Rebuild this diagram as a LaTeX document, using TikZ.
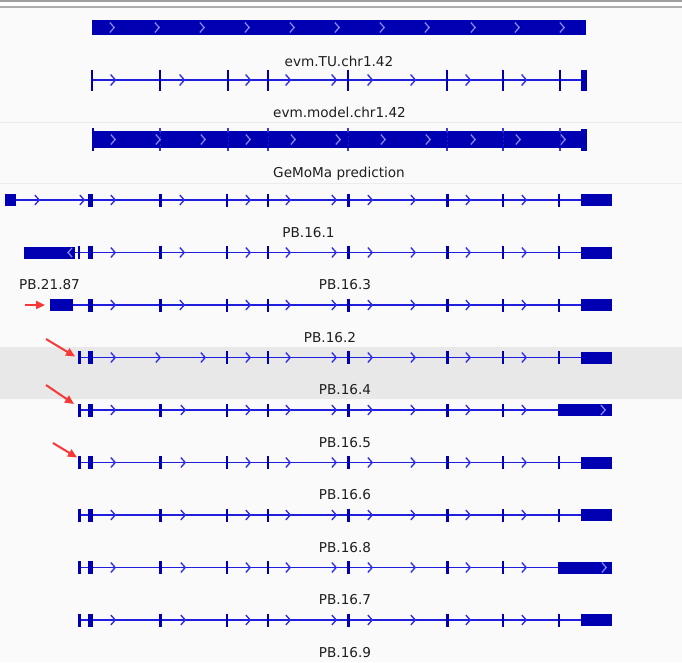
\documentclass[tikz,border=0pt]{standalone}
\usepackage{fontspec}
\setmainfont{DejaVu Sans}
\usetikzlibrary{arrows.meta}
\definecolor{exonblue}{RGB}{0,0,178}
\definecolor{lineblue}{RGB}{30,30,220}
\definecolor{chevblue}{RGB}{45,45,235}
\definecolor{lightchev}{RGB}{140,140,255}
\definecolor{bgc}{RGB}{250,250,250}
\definecolor{bandc}{RGB}{232,232,232}
\definecolor{sepc}{RGB}{236,236,236}
\definecolor{arrowred}{RGB}{248,55,55}
\definecolor{txt}{RGB}{30,30,30}
\definecolor{bartick}{RGB}{60,60,215}
\tikzset{
  exon/.style={fill=exonblue},
  intron/.style={draw=lineblue, line width=1.7pt},
  chevron/.style={draw=chevblue, line width=1.35pt},
  barchev/.style={draw=lightchev, line width=1.2pt},
  thintick/.style={draw=exonblue, line width=1.6pt},
  thicktick/.style={draw=exonblue, line width=3pt},
  lbl/.style={font=\fontsize{13.6}{16}\selectfont, text=txt, inner sep=0pt, anchor=base},
  redarrow/.style={draw=arrowred, line width=2pt, -{Triangle[length=9pt,width=8pt]}},
}
\newcommand\chevrons[2]{\foreach \chx in {#2}{\draw[chevron] (\chx-2.2,#1-5) -- (\chx+2.2,#1) -- (\chx-2.2,#1+5);}}
\newcommand\lightchevrons[2]{\foreach \chx in {#2}{\draw[barchev] (\chx-2.2,#1-5) -- (\chx+2.2,#1) -- (\chx-2.2,#1+5);}}
\newcommand\thinticks[2]{\foreach \tkx in {#2}{\draw[thintick] (\tkx,#1-6.5) -- (\tkx,#1+6.5);}}
\newcommand\thickticks[2]{\foreach \tkx in {#2}{\draw[thicktick] (\tkx,#1-6.5) -- (\tkx,#1+6.5);}}
\newcommand\pbcore[1]{%
  \fill[exon] (88,#1-6.5) rectangle (92.8,#1+6.5);
  \thickticks{#1}{348,447}
  \thinticks{#1}{227,268,503}
  \chevrons{#1}{248,288,334,370,413,468,524}
}
\begin{document}
\begin{tikzpicture}[x=1pt,y=-1pt]
\useasboundingbox (0,0) rectangle (682,662);
\fill[bgc] (0,0) rectangle (682,662);
% top frame lines
\fill[white] (0,0) rectangle (682,7);
\draw[gray!75, line width=1.6pt] (0,1) -- (682,1);
\draw[gray!65, line width=1.4pt] (0,7) -- (682,7);
% separators and band
\draw[sepc, line width=1pt] (0,122) -- (682,122);
\draw[sepc, line width=1pt] (0,183) -- (682,183);
\fill[bandc] (0,347) rectangle (682,399);

% ---- track 1: bar
\fill[exon] (92,20) rectangle (586,35);
\lightchevrons{27.5}{112,157,202,247,292,337,382,427,473,517,562}
\node[lbl] (lTU) at (339,66) {evm.TU.chr1.42};

% ---- track 2: evm model
\draw[intron] (92,80) -- (583,80);
\foreach \tkx in {92,160,228,268,348,447,503,560}{\draw[exonblue, line width=2.8pt] (\tkx,69.5) -- (\tkx,90.5);}
\fill[exon] (581,69.5) rectangle (587,90.5);
\foreach \chx in {113,182,248,288,334,370,413,468,524}{\draw[chevron] (\chx-2.4,74.5) -- (\chx+2.4,80) -- (\chx-2.4,85.5);}
\node[lbl] (lModel) at (339.5,117) {evm.model.chr1.42};

% ---- track 3: GeMoMa
\fill[exon] (92,131) rectangle (586,148);
\foreach \tkx in {160,228,268,348,447,503,560}{
  \draw[bartick, line width=1.6pt] (\tkx,128) -- (\tkx,131.5);
  \draw[bartick, line width=1.6pt] (\tkx,147.5) -- (\tkx,151);
  \draw[exonblue!80!lightchev, line width=0.8pt, dash pattern=on 2pt off 2pt] (\tkx,132) -- (\tkx,147);
}
\draw[exonblue, line width=2.4pt] (93,128) -- (93,151);
\fill[exon] (581,128.5) rectangle (587,150.5);
\lightchevrons{139.5}{113,158,203,248,293,338,383,428,473,518,563}
\node[lbl] (lGe) at (339,177) {GeMoMa prediction};

% ---- PB.16.1 (y=200)
\draw[intron] (16,200) -- (581,200);
\fill[exon] (5,194) rectangle (16,206);
\pbcore{200}
\thickticks{200}{160}
\thinticks{200}{559}
\chevrons{200}{37,82,113,182}
\fill[exon] (581,194) rectangle (612,206);
\node[lbl] (l161) at (308.5,237) {PB.16.1};

% ---- PB.21.87 + PB.16.3 (y=252.5)
\draw[intron] (75,252.5) -- (581,252.5);
\fill[exon] (24,246.5) rectangle (75,258.5);
\draw[barchev] (72,248) -- (68,252.5) -- (72,257);
\thinticks{252.5}{79}
\pbcore{252.5}
\thickticks{252.5}{160}
\thinticks{252.5}{559}
\chevrons{252.5}{113,182}
\fill[exon] (581,246.5) rectangle (612,258.5);
\node[lbl] (l2187) at (49.5,289.5) {PB.21.87};
\node[lbl] (l163) at (345,289.5) {PB.16.3};

% ---- PB.16.2 (y=305)
\draw[intron] (73,305) -- (581,305);
\fill[exon] (50,299) rectangle (73,311);
\pbcore{305}
\thickticks{305}{160}
\thinticks{305}{559}
\chevrons{305}{113,182}
\fill[exon] (581,299) rectangle (612,311);
\node[lbl] (l162) at (330,342) {PB.16.2};

% ---- PB.16.4 (y=357.5)
\draw[intron] (79,357.5) -- (581,357.5);
\thickticks{357.5}{79.5}
\pbcore{357.5}
\thinticks{357.5}{559}
\chevrons{357.5}{113,158,203}
\fill[exon] (581,351.5) rectangle (612,363.5);
\node[lbl] (l164) at (345,394.5) {PB.16.4};

% ---- PB.16.5 (y=410)
\draw[intron] (79,410) -- (558,410);
\thickticks{410}{79.5}
\pbcore{410}
\thickticks{410}{160}
\chevrons{410}{113,183}
\fill[exon] (558,404) rectangle (612,416);
\lightchevrons{410}{603}
\node[lbl] (l165) at (345,447) {PB.16.5};

% ---- PB.16.6 (y=462.5)
\draw[intron] (79,462.5) -- (581,462.5);
\thickticks{462.5}{79.5}
\pbcore{462.5}
\thickticks{462.5}{160}
\thinticks{462.5}{559}
\chevrons{462.5}{113,183}
\fill[exon] (581,456.5) rectangle (612,468.5);
\node[lbl] (l166) at (345,499.5) {PB.16.6};

% ---- PB.16.8 (y=515)
\draw[intron] (79,515) -- (581,515);
\thickticks{515}{79.5}
\pbcore{515}
\thickticks{515}{160}
\thinticks{515}{559}
\chevrons{515}{113,183}
\fill[exon] (581,509) rectangle (612,521);
\node[lbl] (l168) at (345,552) {PB.16.8};

% ---- PB.16.7 (y=567.5)
\draw[intron] (79,567.5) -- (558,567.5);
\thickticks{567.5}{79.5}
\pbcore{567.5}
\thickticks{567.5}{160}
\chevrons{567.5}{113,183}
\fill[exon] (558,561.5) rectangle (612,573.5);
\lightchevrons{567.5}{604}
\node[lbl] (l167) at (345,604.5) {PB.16.7};

% ---- PB.16.9 (y=620)
\draw[intron] (79,620) -- (581,620);
\thickticks{620}{79.5}
\pbcore{620}
\thickticks{620}{160}
\thinticks{620}{559}
\chevrons{620}{113,183}
\fill[exon] (581,614) rectangle (612,626);
\node[lbl] (l169) at (345,657) {PB.16.9};

% ---- red arrows
\coordinate (a1s) at (25,305);   \coordinate (a1e) at (45,305);
\coordinate (a2s) at (46,339);   \coordinate (a2e) at (75,356.5);
\coordinate (a3s) at (46,385);   \coordinate (a3e) at (74,404);
\coordinate (a4s) at (53,443);   \coordinate (a4e) at (77,457.5);
\draw[redarrow] (a1s) -- (a1e);
\draw[redarrow] (a2s) -- (a2e);
\draw[redarrow] (a3s) -- (a3e);
\draw[redarrow] (a4s) -- (a4e);
\end{tikzpicture}
\end{document}
